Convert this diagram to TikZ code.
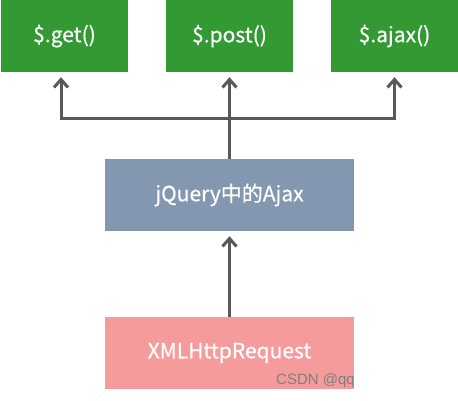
\documentclass[tikz,border=0pt]{standalone}
\usepackage{fontspec}
\setmainfont{Noto Sans CJK SC}
\newfontfamily\boxfont[FakeBold=0.6]{Noto Sans CJK SC}
\newfontfamily\markfont{Liberation Sans}
\usetikzlibrary{arrows.meta,positioning}
\definecolor{boxgreen}{RGB}{51,153,51}
\definecolor{boxblue}{RGB}{132,151,176}
\definecolor{boxpink}{RGB}{245,155,155}
\definecolor{arrowgray}{RGB}{89,89,89}
\tikzstyle{method} = [rectangle, minimum width=127pt, minimum height=72pt, text centered, fill=boxgreen, text=white, font=\boxfont\fontsize{21}{23}\selectfont, inner sep=0pt]
\tikzstyle{layer} = [rectangle, minimum width=249pt, minimum height=72pt, text centered, text=white, font=\boxfont\fontsize{21}{23}\selectfont, inner sep=0pt]
\tikzstyle{arrow} = [line width=3pt, draw=arrowgray, -{Straight Barb[length=8pt,width=14pt,line width=3pt]}, shorten >=5pt]

\begin{document}
\begin{tikzpicture}[x=1pt,y=1pt]
\useasboundingbox (0,0) rectangle (458,-400);

\node (get) [method] at (64.5,-36) {\$.get()};
\node (post) [method, right of=get, node distance=165pt] {\$.post()};
\node (ajax) [method, right of=post, node distance=165pt] {\$.ajax()};
\node (jq) [layer, fill=boxblue] at (229.5,-195) {jQuery中的Ajax};
\node (xhr) [layer, fill=boxpink, below of=jq, node distance=158pt] {XMLHttpRequest};
\coordinate (fork) at (229.5,-118);

% Arrows
\draw [arrow] (xhr) -- (jq);
\draw [arrow] (jq) -- (post);
\draw [arrow] (fork) -| ([xshift=-3.5pt]get.south);
\draw [arrow] (fork) -| (ajax);

% watermark
\node (mark) [anchor=east, text=gray, font=\markfont\fontsize{15}{16}\selectfont, inner sep=0pt] at (355,-381) {CSDN @qq};

\end{tikzpicture}
\end{document}
